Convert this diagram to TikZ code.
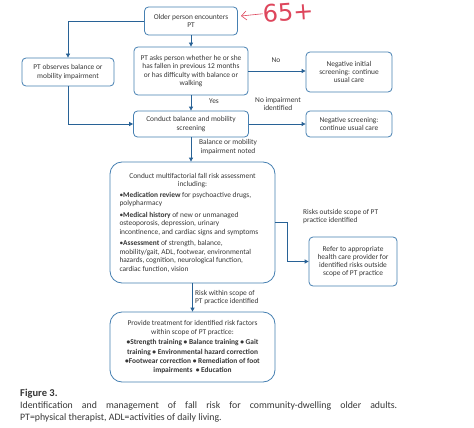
\documentclass[tikz,border=0pt]{standalone}
\usepackage{fontspec}
\setmainfont{Carlito}
\newfontfamily\handfont{DejaVu Sans}
\usetikzlibrary{arrows.meta}
\definecolor{boxblue}{RGB}{70,128,178}
\definecolor{lineblue}{RGB}{40,98,150}
\definecolor{txtgray}{RGB}{55,55,55}
\definecolor{penred}{RGB}{222,70,92}
\tikzset{
  stepbox/.style={draw=boxblue, line width=0.8pt, rounded corners=4pt, align=center,
    text=txtgray, font=\fontsize{7.4}{8.3}\selectfont, inner sep=1pt},
  bigbox/.style={stepbox, rounded corners=12pt},
  flow/.style={draw=lineblue, line width=0.8pt, -{Triangle[length=4pt,width=4pt]}},
  lbl/.style={text=txtgray, font=\fontsize{7.4}{8.3}\selectfont, inner sep=0pt}
}
\begin{document}
\begin{tikzpicture}[x=1pt, y=-1pt]
  \useasboundingbox[fill=white] (0,0) rectangle (474,428);
  % boxes
  \node[stepbox, minimum width=93pt, minimum height=28pt] (start) at (191,21)
    {Older person encounters\\PT};
  \node[stepbox, minimum width=92pt, minimum height=28pt] (observe) at (68,72)
    {PT observes balance or\\mobility impairment};
  \node[stepbox, minimum width=114pt, minimum height=48pt] (ask) at (191,71)
    {PT asks person whether he or she\\has fallen in previous 12 months\\or has difficulty with balance or\\walking};
  \node[stepbox, minimum width=86pt, minimum height=40pt] (neginit) at (349,72)
    {Negative initial\\screening: continue\\usual care};
  \node[stepbox, minimum width=115pt, minimum height=26pt] (screen) at (191,124)
    {Conduct balance and mobility\\screening};
  \node[stepbox, minimum width=86pt, minimum height=26pt] (negscr) at (349,124)
    {Negative screening:\\continue usual care};
  \node[bigbox, minimum width=165pt, minimum height=121pt] (assess) at (192.5,222.5)
    {\begin{minipage}{146pt}\fontsize{7.4}{8.5}\selectfont
     \centering Conduct multifactorial fall risk assessment\\including:\par
     \vspace{2pt}\raggedright
     \textbullet\textbf{Medication review} for psychoactive drugs,\\polypharmacy\par\vspace{3pt}
     \textbullet\textbf{Medical history} of new or unmanaged\\osteoporosis, depression, urinary\\incontinence, and cardiac signs and symptoms\par\vspace{3pt}
     \textbullet\textbf{Assessment} of strength, balance,\\mobility/gait, ADL, footwear, environmental\\hazards, cognition, neurological function,\\cardiac function, vision\par
     \end{minipage}};
  \node[stepbox, minimum width=88pt, minimum height=49pt] (refer) at (353,261.5)
    {Refer to appropriate\\health care provider for\\identified risks outside\\scope of PT practice};
  \node[bigbox, minimum width=165pt, minimum height=70pt, font=\fontsize{7.4}{9.2}\selectfont] (treat) at (192.5,347)
    {Provide treatment for identified risk factors\\within scope of PT practice:\\[1pt]
     \textbf{\textbullet Strength training \textbullet\ Balance training \textbullet\ Gait}\\
     \textbf{training \textbullet\ Environmental hazard correction}\\
     \textbf{\textbullet Footwear correction \textbullet\ Remediation of foot}\\
     \textbf{impairments \ \textbullet\ Education}};
  % connectors
  \draw[flow] (start.west) -| (observe.north);
  \draw[flow] (start.south) -- (ask.north);
  \draw[flow] (ask.east) -- (ask.east -| neginit.west);
  \draw[flow] (ask.south) -- (screen.north);
  \draw[flow] (observe.south) |- (screen.west);
  \draw[flow] (screen.east) -- (negscr.west);
  \draw[flow] (screen.south) -- (screen.south |- assess.north);
  \draw[flow] (assess.east) -- ++(12,0) |- (refer.west);
  \draw[flow] (assess.south) -- (treat.north);
  % labels
  \node[lbl] (no) at (276,60) {No};
  \node[lbl] (yes) at (214,101) {Yes};
  \node[lbl, align=center] (noimp) at (278,104) {No impairment\\identified};
  \node[lbl, align=center] (noted) at (228,147) {Balance or mobility\\impairment noted};
  \node[lbl, align=left, anchor=west] (outside) at (303,216.5) {Risks outside scope of PT\\practice identified};
  \node[lbl, align=left, anchor=west] (within) at (195,297.5) {Risk within scope of\\PT practice identified};
  % handwritten note
  \node[text=penred, font=\handfont\fontsize{24}{24}\selectfont, inner sep=0pt, rotate=4] (age) at (288,12) {65+};
  \coordinate (tip) at (241,16);
  \draw[penred, line width=0.6pt, {Straight Barb[length=5pt,width=9pt]}-] (tip) -- (age.west);
  % caption
  \node[anchor=north west, inner sep=0pt, text=txtgray, align=left, font=\fontsize{9.8}{12}\selectfont] (caption) at (20,389)
    {{\fontsize{10.5}{12}\selectfont\bfseries Figure 3.}\\
     \makebox[377pt][s]{Identification and management of fall risk for community-dwelling older adults.}\\
     PT=physical therapist, ADL=activities of daily living.};
\end{tikzpicture}
\end{document}
